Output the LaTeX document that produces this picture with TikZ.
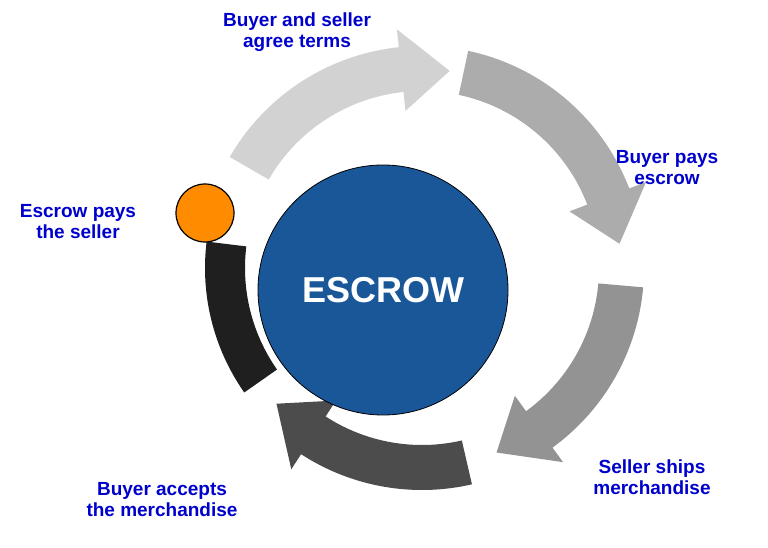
\documentclass[tikz,border=0pt]{standalone}
\usepackage{fontspec}
\setmainfont{Liberation Sans}
\begin{document}
\begin{tikzpicture}[x=1pt,y=-1pt,
  lbl/.style={text=blue!80!black,font=\bfseries\fontsize{19}{21}\selectfont,align=center}]
\useasboundingbox (0,0) rectangle (768,548);
\definecolor{escblue}{HTML}{1A5799}
\newcommand{\ringarrow}[3]{%
  \fill[#3] (#1:222) arc[start angle=#1,end angle=#2+14,radius=222] -- (#2+14:240) -- (#2:199) -- (#2+14:158) -- (#2+14:177) arc[start angle=#2+14,end angle=#1,radius=177] -- cycle;}
\begin{scope}[shift={(422,268)},yscale=-1]
  \ringarrow{150}{82}{gray!35}
  \ringarrow{78}{7}{gray!65}
  \ringarrow{-5}{-68}{gray!85!white}
  \ringarrow{-77}{-137}{black!70}
  \fill[black!88] (-145:217) arc[start angle=-145,end angle=-187,radius=217] -- (-187:177) arc[start angle=-187,end angle=-145,radius=177] -- cycle;
\end{scope}
\node[circle,fill=escblue,draw=black,line width=0.8pt,minimum size=250pt,inner sep=0,text=white,font=\bfseries\fontsize{36}{40}\selectfont] (esc) at (383,290) {ESCROW};
\node[circle,fill=orange!90!yellow,draw=black,line width=1.2pt,minimum size=58pt,inner sep=0] (dot) at (205,213) {};
\node[lbl] (t1) at (297,32) {Buyer and seller\\agree terms};
\node[lbl] (t2) at (667,168) {Buyer pays\\escrow};
\node[lbl] (t3) at (652,477) {Seller ships\\merchandise};
\node[lbl] (t4) at (162,500) {Buyer accepts\\the merchandise};
\node[lbl] (t5) at (78,222) {Escrow pays\\the seller};
\end{tikzpicture}
\end{document}
